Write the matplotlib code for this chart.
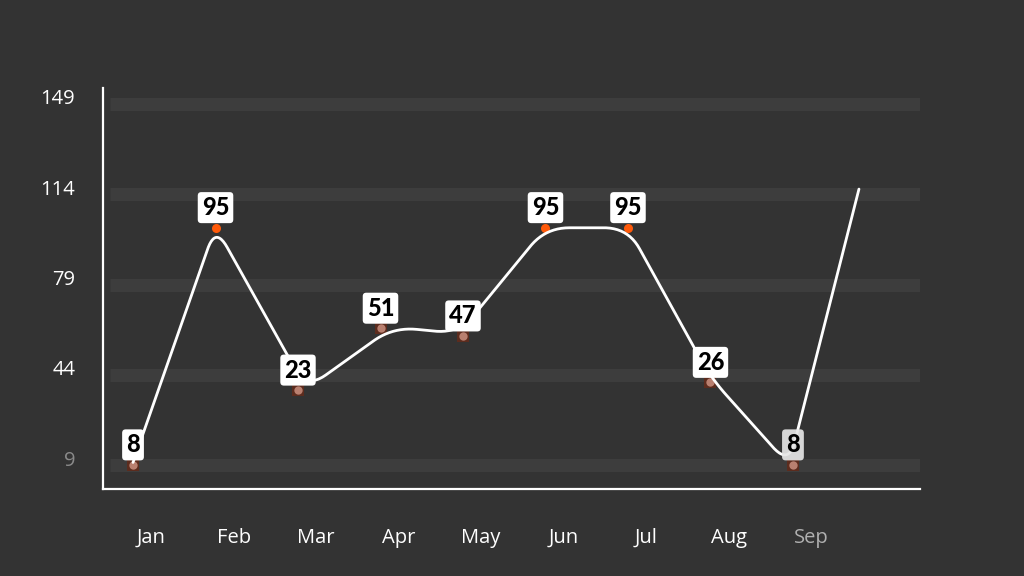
import numpy as np
import matplotlib
matplotlib.use("Agg")
import matplotlib.pyplot as plt
from matplotlib.transforms import ScaledTranslation

# values (chart caught mid-transition)
months = ["Jan", "Feb", "Mar", "Apr", "May", "Jun", "Jul", "Aug", "Sep"]
label_values = [8, 95, 23, 51, 47, 95, 95, 26, 8]
dot_values = [9, 101, 38, 62, 59, 101, 101, 41, 9]
faded = [True, False, True, True, True, False, False, True, True]

line_x = [0, 1, 2.1, 3.15, 3.95, 5, 6, 7, 7.95, 8.8]
line_y = [10, 101.5, 38.5, 62.5, 60, 101, 101, 43, 9, 116]

y_ticks = [9, 44, 79, 114, 149]

BG = "#333333"
PX_X = 82.5   # px per x unit
PX_Y = 2.579  # px per y unit


def rounded(x, y, r=24, n=24):
    # straight segments, corners rounded with a quadratic bezier (radius in px)
    p = np.column_stack([np.asarray(x, float) * PX_X, np.asarray(y, float) * PX_Y])
    out = [p[0]]
    for i in range(1, len(p) - 1):
        a, c, b = p[i - 1], p[i], p[i + 1]
        da, db = a - c, b - c
        la, lb = np.hypot(*da), np.hypot(*db)
        p1 = c + da * min(r / la, 0.5)
        p2 = c + db * min(r / lb, 0.5)
        u = np.linspace(0, 1, n)[:, None]
        out.extend((1 - u) ** 2 * p1 + 2 * (1 - u) * u * c + u ** 2 * p2)
    out.append(p[-1])
    out = np.array(out)
    return out[:, 0] / PX_X, out[:, 1] / PX_Y


fig = plt.figure(figsize=(10.24, 5.76), dpi=100, facecolor=BG)
ax = fig.add_axes([103 / 1024, 1 - 489 / 576, 817 / 1024, 401 / 576])
ax.set_facecolor(BG)

ax.set_xlim(-0.364, 9.54)
ax.set_ylim(-0.3, 155.2)

for v in y_ticks:
    ax.axhline(v, xmin=0.009, xmax=1, color="#3d3d3d", lw=9.5, zorder=1, solid_capstyle="butt")

for sp in ["top", "right"]:
    ax.spines[sp].set_visible(False)
for sp in ["left", "bottom"]:
    ax.spines[sp].set_color("white")
    ax.spines[sp].set_linewidth(1.6)

idx = np.arange(len(months))
ax.set_xticks(idx + 0.22)
ax.set_xticklabels(months)
ax.set_yticks(y_ticks)
ax.set_yticklabels([str(v) for v in y_ticks])
ax.tick_params(axis="x", length=0, pad=28, labelsize=14.5, labelcolor="white")
ax.tick_params(axis="y", length=0, pad=20, labelsize=14.5, labelcolor="white")
for lbl in ax.get_xticklabels() + ax.get_yticklabels():
    lbl.set_family(["Open Sans", "DejaVu Sans"])
for lbl in ax.get_yticklabels():
    lbl.set_transform(lbl.get_transform() + ScaledTranslation(0, 0.07, fig.dpi_scale_trans))
ax.get_xticklabels()[-1].set_color("#b0b0b0")
ax.get_yticklabels()[0].set_color("#8a8a8a")

# dots
for i, (v, f) in enumerate(zip(dot_values, faded)):
    if f:
        ax.plot(i, v, marker="s", ms=9, color="#5c2c1e", mew=0, zorder=3)
        ax.plot(i, v, marker="o", ms=6, color="#b98070", mew=0, zorder=3)
    else:
        ax.plot(i, v, marker="o", ms=6.5, color="#ff5a0a", mew=0, zorder=3)

# line with rounded corners
sx, sy = rounded(line_x, line_y)
ax.plot(sx, sy, color="white", lw=2, zorder=4, solid_capstyle="round")

# value labels
for i, (v, lv) in enumerate(zip(dot_values, label_values)):
    last = i == len(months) - 1
    ax.annotate(str(lv), (i, v), xytext=(0, 14.5), textcoords="offset points",
                ha="center", va="center", fontsize=17, fontweight="black",
                family=["Lato", "DejaVu Sans"], color="black", zorder=5,
                bbox=dict(boxstyle="round,pad=0.17,rounding_size=0.15",
                          fc="#e6e6e6" if last else "white", ec="none",
                          alpha=0.92 if last else 1))

fig.savefig("out.png", dpi=100, facecolor=BG)
